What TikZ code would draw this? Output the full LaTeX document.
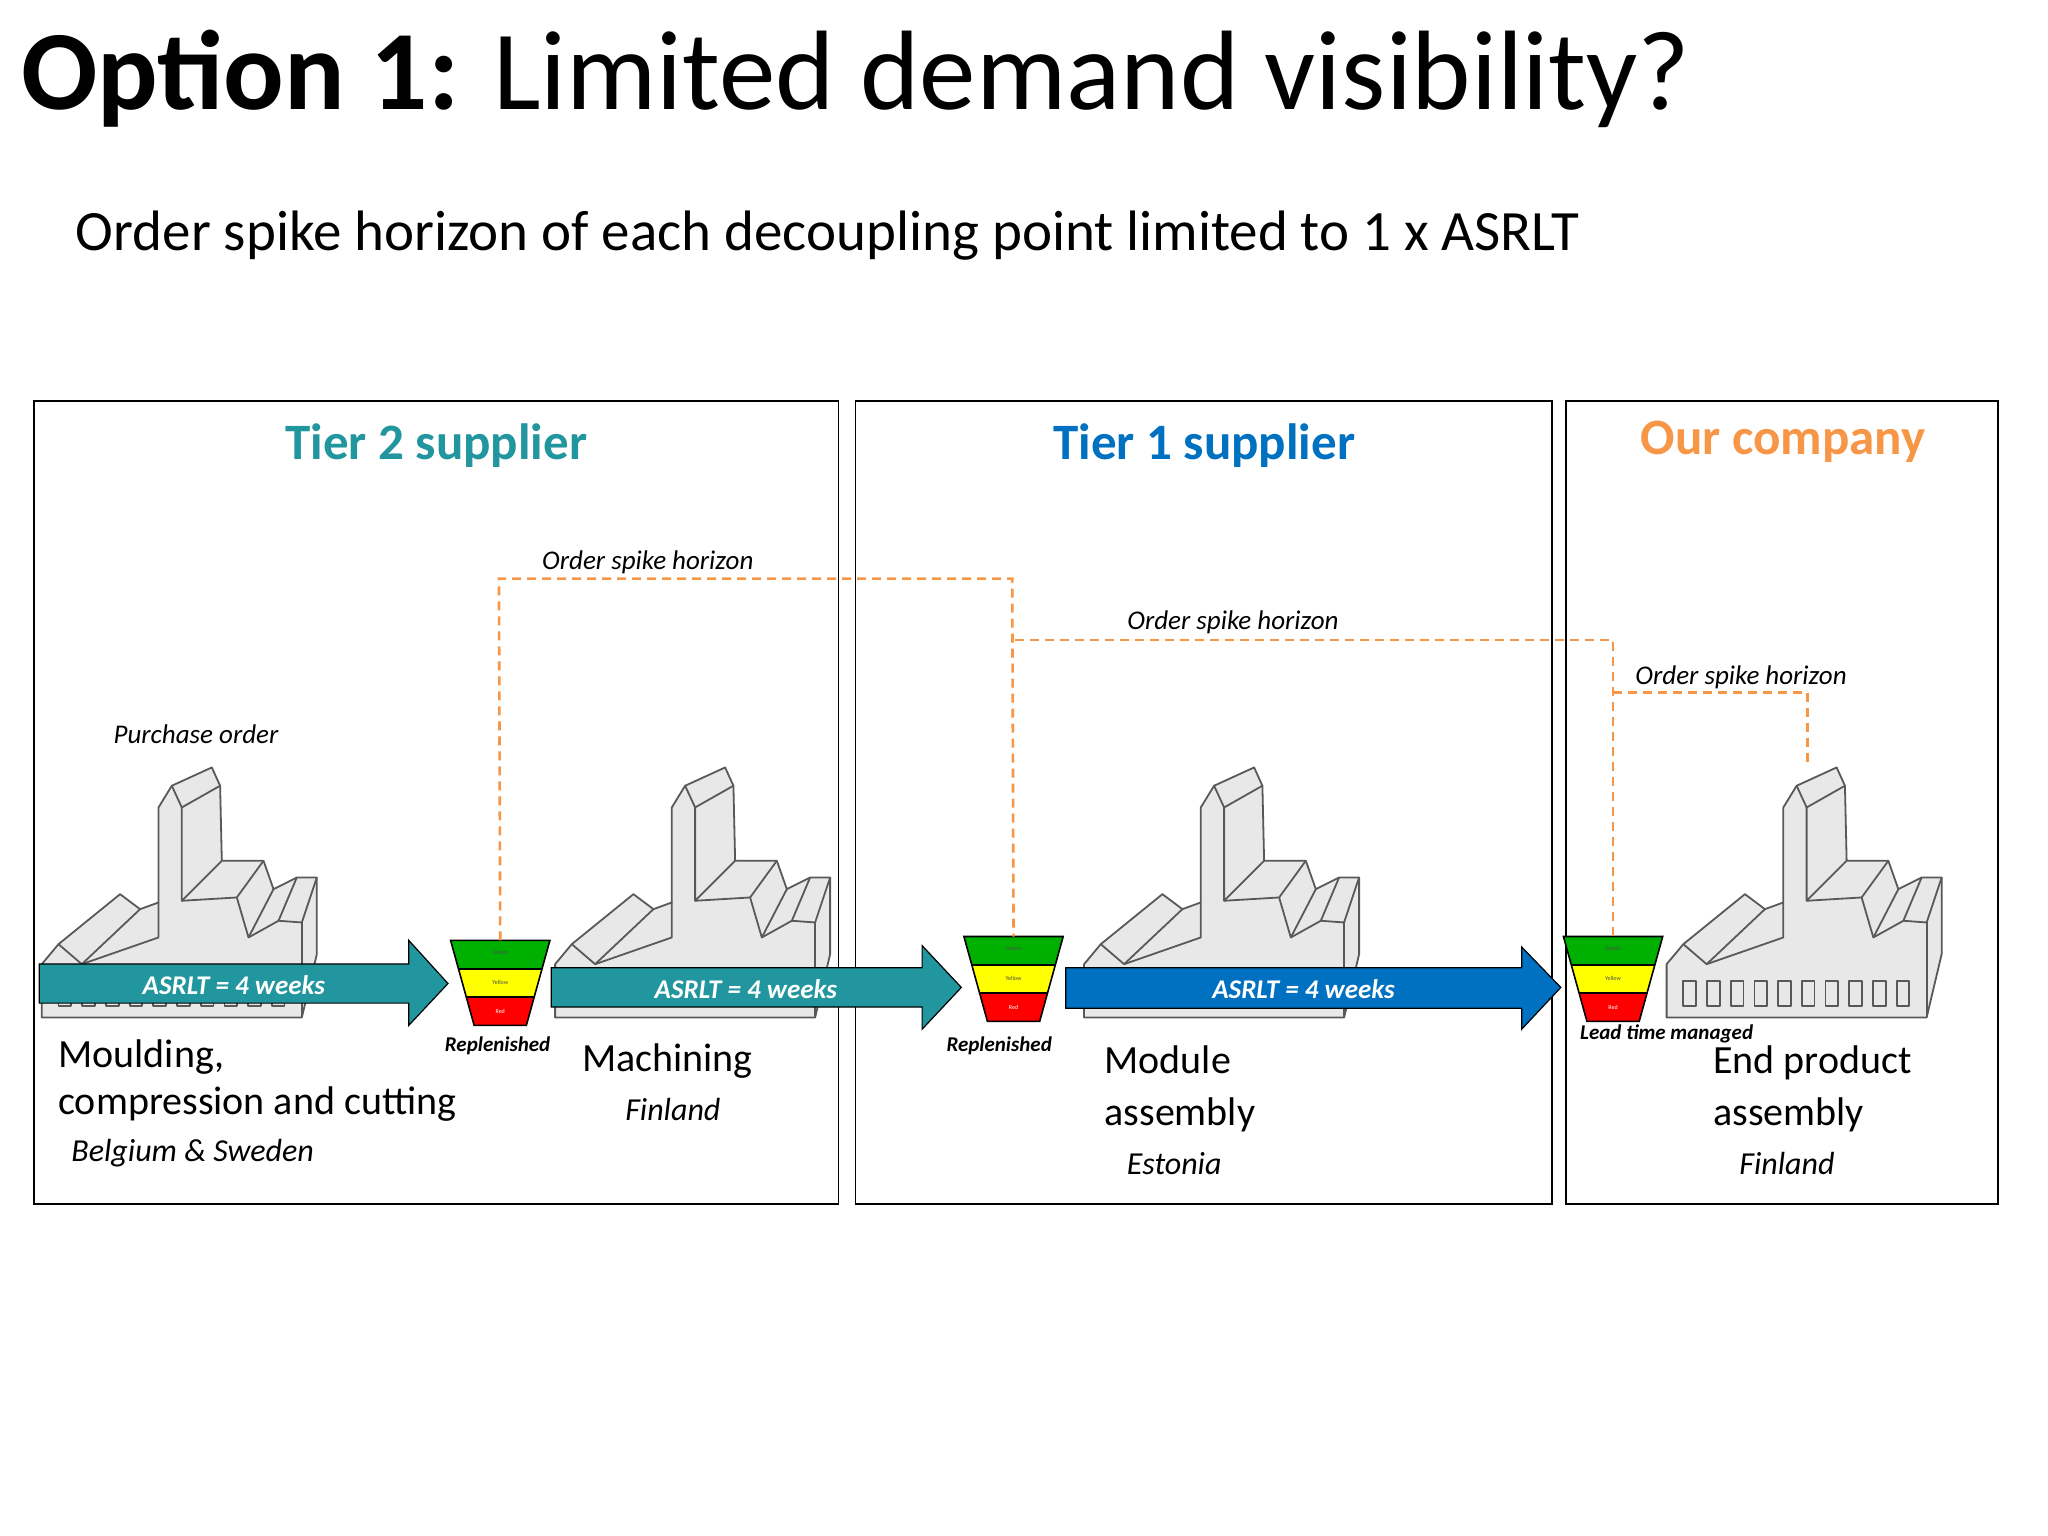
\documentclass[tikz,border=0pt]{standalone}
\usepackage{fontspec}
\setmainfont{Carlito}
\begin{document}
\begin{tikzpicture}[x=1.306pt,y=-1.306pt,
  box/.style={draw=black,line width=1.8pt},
  hdr/.style={font=\fontsize{51}{58}\selectfont\bfseries,anchor=base},
  osh/.style={font=\fontsize{27}{30}\selectfont\itshape,anchor=base},
  proc/.style={font=\fontsize{40}{46}\selectfont,anchor=base west},
  loc/.style={font=\fontsize{32}{36}\selectfont\itshape,anchor=base west},
  small/.style={font=\fontsize{21}{24}\selectfont\bfseries\itshape,anchor=base},
  alab/.style={font=\fontsize{27}{30}\selectfont\bfseries\itshape,text=white},
  spike/.style={draw=orange1,line width=2.6pt,dash pattern=on 9pt off 6pt},
  fac/.style={draw=black!65,fill=black!9,line width=1.8pt,line join=round},
  facl/.style={draw=black!65,line width=1.8pt,line join=round},
  arr/.style={draw=black,line width=1.2pt},
]
\definecolor{teal1}{HTML}{21969F}
\definecolor{blue1}{HTML}{0070C0}
\definecolor{orange1}{HTML}{F79646}
\definecolor{tgreen}{HTML}{00B000}
\definecolor{tyellow}{HTML}{FFFF00}
\definecolor{tred}{HTML}{FF0000}
\useasboundingbox (0,0) rectangle (1568,1176);
\fill[white] (0,0) rectangle (1568,1176);

% title
\node[anchor=base west,inner sep=0,font=\fontsize{113}{124}\selectfont] (title) at (16,84) {\textbf{Option 1:} Limited demand visibility?};
\node[anchor=base west,inner sep=0,font=\fontsize{57}{66}\selectfont] (sub) at (58,192) {Order spike horizon of each decoupling point limited to 1 x ASRLT};

% boxes
\draw[box] (26,307) rectangle (642,922);
\draw[box] (655,307) rectangle (1188,922);
\draw[box] (1199,307) rectangle (1530,922);
\node[hdr,text=teal1] (h1) at (334,352) {Tier 2 supplier};
\node[hdr,text=blue1] (h2) at (922,352) {Tier 1 supplier};
\node[hdr,text=orange1] (h3) at (1365,348) {Our company};

% factories
\foreach \fx/\nm in {32/f1,425/f2,830/f3,1276/f4}{
\begin{scope}[shift={(\fx,779)},scale=0.7657,yscale=-1]
  \path[fac] (0,0)--(0,53.3)--(16.7,73.3)--(78.3,123.3)--(98.3,108.3)--(116.7,115)--(116.7,210)--(130,231.7)--(170,250)--(178.3,231.7)--(180,156.7)--(221.7,156.7)--(231.7,128.3)--(255,140)--(275,140)--(275,63.3)--(260,0)--cycle;
  \draw[facl] (16.7,73.3)--(40,53.3)--(98.3,108.3);
  \draw[facl] (40,53.3)--(116.7,80)--(116.7,115);
  \draw[facl] (130,231.7)--(140,210)--(178.3,231.7);
  \draw[facl] (140,210)--(140,116.7)--(180,156.7);
  \draw[facl] (140,116.7)--(195,120)--(221.7,156.7);
  \draw[facl] (195,120)--(206.7,80)--(231.7,128.3);
  \draw[facl] (206.7,80)--(236.7,96.7)--(255,140);
  \draw[facl] (236.7,96.7)--(260,95)--(275,140);
  \draw[facl] (260,95)--(260,0);
  \foreach \i in {0,...,9}{\draw[facl] ({16.7+\i*23.7},11.7) rectangle ++(12.7,25);}
  \coordinate (\nm) at (0,0);
\end{scope}}
\coordinate (f4top) at (1384,585);

% arrows
\path[arr,fill=teal1] (30,738)--(313,738)--(313,720)--(343,753)--(313,785)--(313,768)--(30,768)--cycle;
\node[alab] (a1) at (179,754) {ASRLT = 4 weeks};
\path[arr,fill=teal1] (422,741)--(706,741)--(706,724)--(736,756)--(706,788)--(706,771)--(422,771)--cycle;
\node[alab] (a2) at (571,757) {ASRLT = 4 weeks};
\path[arr,fill=blue1] (816,741)--(1165,741)--(1165,725)--(1195,756)--(1165,788)--(1165,772)--(816,772)--cycle;
\node[alab] (a3) at (998,757) {ASRLT = 4 weeks};

% buffers
\foreach \bx/\by/\nm in {383/720/b1,776/717/b2,1235/717/b3}{
\begin{scope}[shift={(\bx,\by)}]
  \fill[tgreen] (-38,0)--(38,0)--(32,21.7)--(-32,21.7)--cycle;
  \fill[tyellow] (-32,21.7)--(32,21.7)--(26,43.3)--(-26,43.3)--cycle;
  \fill[tred] (-26,43.3)--(26,43.3)--(20,65)--(-20,65)--cycle;
  \draw[line width=1.6pt] (-38,0)--(38,0)--(20,65)--(-20,65)--cycle;
  \draw[line width=1.6pt] (-32,21.7)--(32,21.7) (-26,43.3)--(26,43.3);
  \node[font=\fontsize{6}{7}\selectfont,text=black!70] at (0,9) {Green};
  \node[font=\fontsize{6}{7}\selectfont,text=black!70] at (0,32) {Yellow};
  \node[font=\fontsize{6}{7}\selectfont,text=white] at (0,54) {Red};
  \coordinate (\nm) at (0,0);
\end{scope}}

% order spike horizons
\draw[spike] (b1) -- (382,443) -- (775,443) -- (b2);
\draw[spike] (777,490) -- (1235,490) -- (b3);
\draw[spike] (1235,530) -- (1384,530) -- (f4top);
\node[osh] (o1) at (496,436) {Order spike horizon};
\node[osh] (o2) at (944,482) {Order spike horizon};
\node[osh] (o3) at (1333,524) {Order spike horizon};
\node[osh] (po) at (150,569) {Purchase order};

\node[small] (r1) at (381,805) {Replenished};
\node[small] (r2) at (765,805) {Replenished};
\node[small] (lt) at (1276,796) {Lead time managed};

% process labels
\node[proc] (p1a) at (42,817) {Moulding,};
\node[proc] (p1b) at (42,853) {compression and cutting};
\node[loc] (l1) at (52,889) {Belgium \& Sweden};
\node[proc] (p2) at (443,820) {Machining};
\node[loc] (l2) at (476,858) {Finland};
\node[proc] (p3a) at (843,822) {Module};
\node[proc] (p3b) at (843,862) {assembly};
\node[loc] (l3) at (860,899) {Estonia};
\node[proc] (p4a) at (1309,822) {End product};
\node[proc] (p4b) at (1309,862) {assembly};
\node[loc] (l4) at (1329,899) {Finland};
\end{tikzpicture}
\end{document}
